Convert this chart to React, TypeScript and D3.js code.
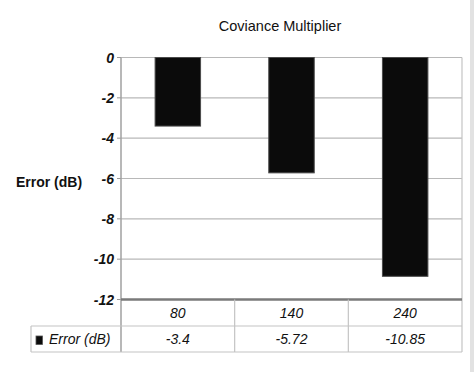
import React from "react";
import * as d3 from "d3";

const categories = ["80", "140", "240"];
const seriesName = "Error (dB)";
const values = [-3.4, -5.72, -10.85];
const valueLabels = ["-3.4", "-5.72", "-10.85"];
const yTicks = [0, -2, -4, -6, -8, -10, -12];
const title = "Coviance Multiplier";
const yTitle = "Error (dB)";

const W = 474;
const H = 372;
const plotLeft = 121;
const plotRight = 462;
const plotTop = 57.5;
const plotBottom = 299.5;
const row1Bottom = 326;
const row2Bottom = 352;
const legendLeft = 31;

export default function App() {
  const y = d3.scaleLinear().domain([-12, 0]).range([plotBottom, plotTop]);
  const xCol = d3.scaleBand<string>().domain(categories).range([plotLeft, plotRight]).padding(0);
  const xBar = d3
    .scaleBand<string>()
    .domain(categories)
    .range([plotLeft, plotRight])
    .paddingInner(0.6)
    .paddingOuter(0.3);
  const font = "'Liberation Sans', Arial, Helvetica, sans-serif";
  const gridColor = "#b8b8b8";
  const tableColor = "#c4c4c4";

  return (
    <svg
      width={W}
      height={H}
      style={{ position: "absolute", left: 0, top: 0, background: "#fff" }}
      fontFamily={font}
    >
      <rect x={0} y={0} width={W} height={H} fill="#fff" />
      <rect x={470} y={0} width={4} height={H} fill="#e2e2e2" />
      <text x={280} y={31} textAnchor="middle" fontSize={14.5} fill="#111">
        {title}
      </text>
      {/* grid lines */}
      {yTicks.map((t) => (
        <line
          key={"g" + t}
          x1={plotLeft}
          x2={plotRight}
          y1={y(t)}
          y2={y(t)}
          stroke={gridColor}
          strokeWidth={1.2}
        />
      ))}
      {/* tick marks and labels */}
      {yTicks.map((t) => (
        <g key={"t" + t}>
          <line x1={plotLeft - 4} x2={plotLeft} y1={y(t)} y2={y(t)} stroke="#999" />
          <text
            x={114}
            y={y(t) + 5}
            textAnchor="end"
            fontSize={14}
            fontWeight="bold"
            fontStyle="italic"
            fill="#111"
          >
            {t}
          </text>
        </g>
      ))}
      <text x={16} y={187} fontSize={14} fontWeight="bold" fill="#111">
        {yTitle}
      </text>
      {/* plot borders */}
      <line x1={plotLeft} x2={plotLeft} y1={plotTop} y2={row2Bottom} stroke="#a0a0a0" strokeWidth={1.5} />
      <line x1={plotRight} x2={plotRight} y1={plotTop} y2={row2Bottom} stroke={tableColor} strokeWidth={1.2} />
      {/* bars */}
      {categories.map((c, i) => (
        <rect
          key={"b" + c}
          x={xBar(c)!}
          y={y(0)}
          width={xBar.bandwidth()}
          height={y(values[i]) - y(0)}
          fill="#0b0b0b"
          stroke="#4a4a4a"
          strokeWidth={1}
        />
      ))}
      {/* axis line at bottom */}
      <line x1={plotLeft} x2={plotRight} y1={plotBottom} y2={plotBottom} stroke="#7a7a7a" strokeWidth={2.5} />
      {/* table */}
      <line x1={legendLeft} x2={plotRight} y1={row1Bottom} y2={row1Bottom} stroke={tableColor} strokeWidth={1.2} />
      <line x1={legendLeft} x2={plotRight} y1={row2Bottom} y2={row2Bottom} stroke={tableColor} strokeWidth={1.2} />
      <line x1={legendLeft} x2={legendLeft} y1={row1Bottom} y2={row2Bottom} stroke={tableColor} strokeWidth={1.2} />
      {categories.slice(1).map((c) => (
        <line
          key={"s" + c}
          x1={xCol(c)!}
          x2={xCol(c)!}
          y1={plotBottom}
          y2={row2Bottom}
          stroke={tableColor}
          strokeWidth={1.2}
        />
      ))}
      {categories.map((c, i) => (
        <g key={"c" + c}>
          <text
            x={xCol(c)! + xCol.bandwidth() / 2}
            y={318}
            textAnchor="middle"
            fontSize={14}
            fontStyle="italic"
            fill="#111"
          >
            {c}
          </text>
          <text
            x={xCol(c)! + xCol.bandwidth() / 2}
            y={344}
            textAnchor="middle"
            fontSize={14}
            fontStyle="italic"
            fill="#111"
          >
            {valueLabels[i]}
          </text>
        </g>
      ))}
      <rect x={36} y={336} width={6.5} height={8.5} fill="#0b0b0b" stroke="#555" strokeWidth={0.8} />
      <text x={49} y={344} fontSize={14} fontStyle="italic" fill="#111">
        {seriesName}
      </text>
    </svg>
  );
}
